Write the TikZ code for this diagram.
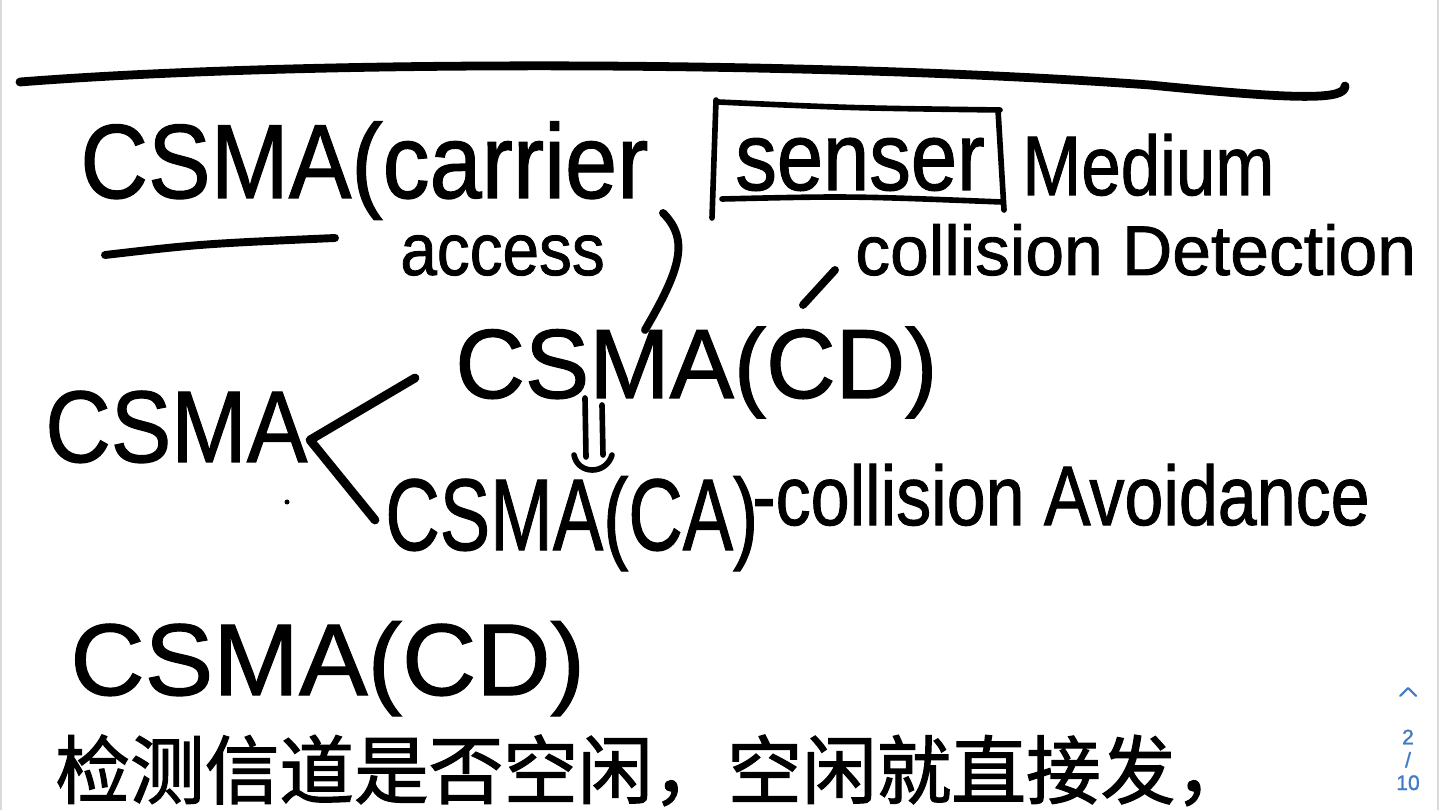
\documentclass[tikz,border=0pt]{standalone}
\usepackage{fontspec}
\setmainfont{Liberation Sans}[FakeBold=1.2]
\newfontfamily\cjk[FakeBold=1.6]{Noto Sans CJK SC}
\usepackage{graphicx}
\usetikzlibrary{positioning}
\definecolor{pagenum}{HTML}{3F7BC6}
\definecolor{edgegray}{HTML}{DADADA}
\newcommand{\sz}[1]{\fontsize{#1}{#1}\selectfont}

\begin{document}
\begin{tikzpicture}[x=0.02cm, y=-0.02cm,
    ink/.style={line width=4.5pt, line cap=round, line join=round},
    thinink/.style={line width=3.2pt, line cap=round, line join=round},
    hand/.style={anchor=base west, inner sep=0pt},
    pager/.style={text=pagenum, inner sep=0pt, font=\sz{12}}]

    \useasboundingbox (0,0) rectangle (1440,810);
    \fill[white] (0,0) rectangle (1440,810);
    \draw[edgegray, line width=0.8pt] (1,0) -- (1,810);
    \draw[edgegray, line width=0.8pt] (1438,0) -- (1438,810);

    % top rule
    \coordinate (ruleL) at (20,82);
    \coordinate (ruleR) at (1345,86);
    \draw[ink, line width=5pt] (ruleL) .. controls (300,60) and (800,60) .. (1150,85)
        .. controls (1300,100) and (1345,100) .. (ruleR);

    % first line
    \node[hand] (csma) at (80,198) {\scalebox{0.89}[1]{\sz{60}CSMA(carrier}};
    \draw[ink] (105,255) .. controls (200,244) .. (335,238);
    \node[hand] (sense) at (735,190) {\scalebox{0.86}[1]{\sz{55}senser}};
    \draw[thinink] (718,102) .. controls (850,108) .. (1000,110);
    \draw[thinink] (722,199) .. controls (850,196) .. (1002,202);
    \draw[thinink] (716,100) -- (712,218);
    \draw[thinink] (998,110) -- (1004,210);
    \node[hand] (medium) at (1022,195) {\scalebox{0.84}[1]{\sz{48}Medium}};

    % second line
    \node[hand] (access) at (400,275) {\scalebox{0.89}[1]{\sz{42}access}};
    \coordinate (parTop) at (663,213);
    \coordinate (parBot) at (645,330);
    \draw[ink] (parTop) .. controls (690,240) and (680,270) .. (parBot);
    \node[hand] (cd) at (855,275) {\scalebox{0.99}[1]{\sz{40}collision Detection}};
    \draw[ink] (cd.base west) ++(-20,-5) coordinate (tickA) -- ++(-32,35) coordinate (tickB);

    % CSMA branches
    \node[hand] (root) at (45,462) {\scalebox{0.89}[1]{\sz{58}CSMA}};
    \node[hand] (csmacd) at (455,398) {\scalebox{0.98}[1]{\sz{56}CSMA(CD)}};
    \node[hand] (csmaca) at (385,550) {\scalebox{0.74}[1]{\sz{58}CSMA(CA)}};
    \node[hand] (avoid) at (752,525) {\scalebox{0.83}[1]{\sz{48}-collision Avoidance}};
    \coordinate (brTop) at (415,378);
    \coordinate (brMid) at (310,440);
    \coordinate (brBot) at (375,520);
    \draw[ink, line width=5pt] (brTop) -- (brMid) -- (brBot);
    \fill (287,502) circle (2.5);

    % equals mark
    \draw[thinink] (585,398) -- (586,457);
    \draw[thinink] (602,405) -- (603,455);
    \draw[thinink] (574,455) .. controls (578,475) and (606,475) .. (612,455);

    % bottom block
    \node[hand] (again) at (70,695) {\scalebox{1.01}[1]{\sz{58}CSMA(CD)}};
    \node[anchor=base west, inner sep=0pt] (cn) at (55,798)
        {\cjk\sz{42.5}检测信道是否空闲，空闲就直接发，};

    % page indicator
    \draw[pagenum, line width=1.2pt, line cap=round, line join=round]
        (1400,696) -- (1408,688) -- (1416,696);
    \node[pager] (pg) at (1408,737) {2};
    \node[pager, below=4pt of pg] (slash) {/};
    \node[pager, below=4pt of slash] (total) {10};
\end{tikzpicture}
\end{document}
